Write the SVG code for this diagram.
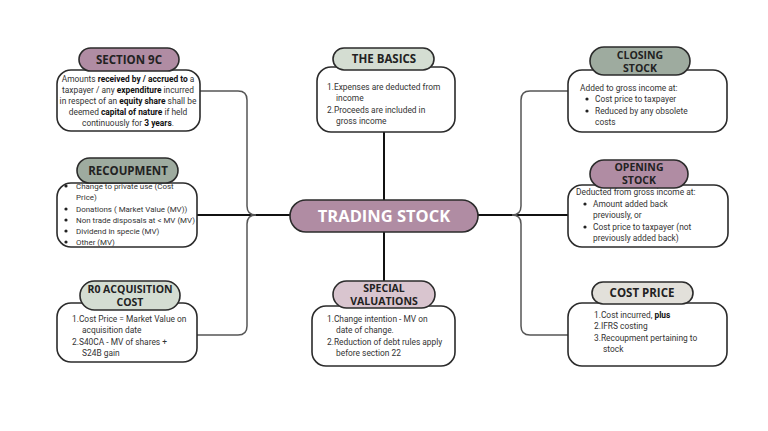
<svg xmlns="http://www.w3.org/2000/svg" width="768" height="431" viewBox="0 0 768 431">
<style>
.body{fill:#fff;stroke:#2b2b2b;stroke-width:1.6}
.hdr{stroke:#2b2b2b;stroke-width:1.6}
.mauve{fill:#b08ca3}
.sage{fill:#9eab9f}
.pale{fill:#d4ddd2}
.pink{fill:#d9c5cf}
.grey{fill:#e2e0da}
.ht{font-family:"Open Sans","Liberation Sans",sans-serif;font-weight:700;font-size:11.5px;fill:#222;text-anchor:middle}
.h2{font-size:10.5px}
.t{font-family:Roboto,"Liberation Sans",sans-serif;font-size:8.4px;fill:#333}
.s{font-size:7.95px}
.c{text-anchor:middle}
.b{font-weight:700;fill:#111}
.br{fill:none;stroke:#555;stroke-width:1.5}
.main{fill:none;stroke:#111;stroke-width:2}
</style>
<rect width="768" height="431" fill="#fff"/>
<g id="connectors">
  <path class="main" d="M384 128V200M384 232V283"/>
  <path class="main" d="M197 215H290M478 215H568"/>
  <path class="br" d="M200 91H238Q247 91 247 100V206Q247 215 256 215"/>
  <path class="br" d="M256 215Q247 215 247 224V326Q247 335 238 335H197"/>
  <path class="br" d="M568 91H530Q521 91 521 100V206Q521 215 512 215"/>
  <path class="br" d="M512 215Q521 215 521 224V326Q521 335 530 335H568"/>
</g>
<g id="trading-stock">
  <rect x="290" y="200" width="188" height="32" rx="16" fill="#b08ca3" stroke="#2b2b2b" stroke-width="1.6"/>
  <text x="384" y="222" font-family="'Open Sans','Liberation Sans',sans-serif" font-weight="700" font-size="16.5" fill="#fff" text-anchor="middle">TRADING STOCK</text>
</g>
<g id="section-9c">
  <rect class="body" x="57" y="70" width="143" height="61" rx="14"/>
  <rect class="hdr mauve" x="79" y="48" width="100" height="23" rx="11.5"/>
  <text class="ht" x="129" y="64">SECTION 9C</text>
  <text class="t c" x="128" y="82">Amounts <tspan class="b">received by / accrued to</tspan> a</text>
  <text class="t c" x="128" y="93">taxpayer / any <tspan class="b">expenditure</tspan> incurred</text>
  <text class="t c" x="128" y="104">in respect of an <tspan class="b">equity share</tspan> shall be</text>
  <text class="t c" x="128" y="115">deemed <tspan class="b">capital of nature</tspan> if held</text>
  <text class="t c" x="128" y="126">continuously for <tspan class="b">3 years</tspan>.</text>
</g>
<g id="the-basics">
  <rect class="body" x="317" y="67" width="138" height="65" rx="14"/>
  <rect class="hdr pale" x="333" y="48" width="101" height="22" rx="11"/>
  <text class="ht" x="384" y="63">THE BASICS</text>
  <text class="t" x="327" y="90">1.Expenses are deducted from</text>
  <text class="t" x="336" y="101">income</text>
  <text class="t" x="327" y="113">2.Proceeds are included in</text>
  <text class="t" x="336" y="124">gross income</text>
</g>
<g id="closing-stock">
  <rect class="body" x="568" y="70" width="159" height="62" rx="14"/>
  <rect class="hdr sage" x="590" y="47" width="100" height="28" rx="14"/>
  <text class="ht h2" x="640" y="59">CLOSING</text>
  <text class="ht h2" x="640" y="72">STOCK</text>
  <text class="t" x="580" y="91">Added to gross income at:</text>
  <circle cx="587" cy="99" r="1.6" fill="#222"/>
  <text class="t" x="595" y="102">Cost price to taxpayer</text>
  <circle cx="587" cy="111" r="1.6" fill="#222"/>
  <text class="t" x="595" y="114">Reduced by any obsolete</text>
  <text class="t" x="595" y="125">costs</text>
</g>
<g id="recoupment">
  <rect class="body" x="57" y="183" width="140" height="64" rx="14"/>
  <rect class="hdr sage" x="77" y="158" width="101" height="25" rx="12.5"/>
  <text class="ht" x="128" y="175">RECOUPMENT</text>
  <circle cx="66" cy="186" r="1.6" fill="#222"/>
  <text class="t s" x="76" y="189">Change to private use (Cost</text>
  <text class="t s" x="76" y="200">Price)</text>
  <circle cx="66" cy="209" r="1.6" fill="#222"/>
  <text class="t s" x="76" y="212">Donations ( Market Value (MV))</text>
  <circle cx="66" cy="220" r="1.6" fill="#222"/>
  <text class="t s" x="76" y="223">Non trade disposals at &lt; MV (MV)</text>
  <circle cx="66" cy="231" r="1.6" fill="#222"/>
  <text class="t s" x="76" y="234">Dividend in specie (MV)</text>
  <circle cx="66" cy="242" r="1.6" fill="#222"/>
  <text class="t s" x="76" y="245">Other (MV)</text>
</g>
<g id="opening-stock">
  <rect class="body" x="568" y="185" width="160" height="62" rx="14"/>
  <rect class="hdr mauve" x="590" y="160" width="98" height="28" rx="14"/>
  <text class="ht h2" x="639" y="171">OPENING</text>
  <text class="ht h2" x="639" y="183.5">STOCK</text>
  <text class="t" x="576" y="195">Deducted from gross income at:</text>
  <circle cx="585" cy="204" r="1.6" fill="#222"/>
  <text class="t" x="593" y="207">Amount added back</text>
  <text class="t" x="593" y="218">previously, or</text>
  <circle cx="585" cy="227" r="1.6" fill="#222"/>
  <text class="t" x="593" y="230">Cost price to taxpayer (not</text>
  <text class="t" x="593" y="241">previously added back)</text>
</g>
<g id="r0-acquisition-cost">
  <rect class="body" x="57" y="303" width="140" height="59" rx="14"/>
  <rect class="hdr pale" x="80" y="281" width="100" height="29" rx="14.5"/>
  <text class="ht h2" x="130" y="293">R0 ACQUISITION</text>
  <text class="ht h2" x="130" y="306">COST</text>
  <text class="t" x="72" y="322">1.Cost Price = Market Value on</text>
  <text class="t" x="82" y="333">acquisition date</text>
  <text class="t" x="72" y="345">2.S40CA - MV of shares +</text>
  <text class="t" x="82" y="356">S24B gain</text>
</g>
<g id="special-valuations">
  <rect class="body" x="312" y="306" width="143" height="60" rx="14"/>
  <rect class="hdr pink" x="333" y="281" width="102" height="27" rx="13.5"/>
  <text class="ht h2" x="384" y="292">SPECIAL</text>
  <text class="ht h2" x="384" y="305">VALUATIONS</text>
  <text class="t" x="327" y="322">1.Change intention - MV on</text>
  <text class="t" x="336" y="333">date of change.</text>
  <text class="t" x="327" y="345">2.Reduction of debt rules apply</text>
  <text class="t" x="336" y="356">before section 22</text>
</g>
<g id="cost-price">
  <rect class="body" x="568" y="303" width="159" height="63" rx="14"/>
  <rect class="hdr grey" x="592" y="282" width="101" height="22" rx="11"/>
  <text class="ht" x="642" y="297">COST PRICE</text>
  <text class="t" x="594" y="318">1.Cost incurred, <tspan class="b">plus</tspan></text>
  <text class="t" x="594" y="329">2.IFRS costing</text>
  <text class="t" x="594" y="341">3.Recoupment pertaining to</text>
  <text class="t" x="603" y="352">stock</text>
</g>
</svg>
